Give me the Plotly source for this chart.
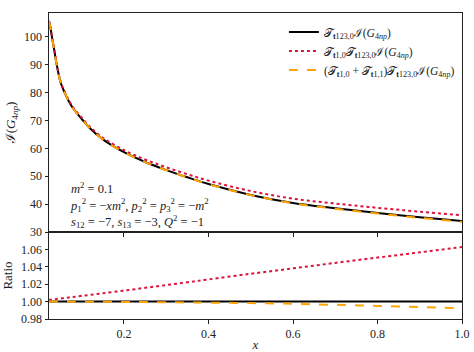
import plotly.graph_objects as go
from plotly.subplots import make_subplots

# ---- data ----
x_vals = [0.0225, 0.025, 0.03, 0.035, 0.04, 0.05, 0.06, 0.07, 0.08, 0.1, 0.12, 0.15,
          0.2, 0.25, 0.3, 0.35, 0.4, 0.5, 0.6, 0.7, 0.8, 0.9, 1.0]
exact_vals = [105.5, 104.0, 99.4, 95.2, 90.6, 83.6, 79.8, 76.7, 74.2, 70.5, 67.1, 63.2,
              58.6, 55.1, 52.2, 49.6, 47.2, 43.3, 40.4, 38.5, 36.8, 35.3, 33.9]
ratio_t10 = [1.0018, 1.0020, 1.0023, 1.0026, 1.0030, 1.0036, 1.0042, 1.0048, 1.0054, 1.0066,
             1.0078, 1.0096, 1.0126, 1.0158, 1.0190, 1.0222, 1.0255, 1.0320, 1.0382,
             1.0445, 1.0506, 1.0566, 1.0627]
ratio_t10_t11 = [1.0000, 1.0000, 1.0000, 1.0000, 1.0000, 1.0000, 1.0000, 1.0000, 0.9999, 0.9999,
                 0.9999, 0.9998, 0.9996, 0.9994, 0.9992, 0.9990, 0.9988, 0.9983, 0.9975,
                 0.9963, 0.9950, 0.9937, 0.9923]
ratio_exact = [1.0 for _ in x_vals]

top_t10 = [e * r for e, r in zip(exact_vals, ratio_t10)]
top_t10_t11 = [e * r for e, r in zip(exact_vals, ratio_t10_t11)]

x_ticks = [0.2, 0.4, 0.6, 0.8, 1.0]
x_tick_labels = ["0.2", "0.4", "0.6", "0.8", "1.0"]
y_top_ticks = [30, 40, 50, 60, 70, 80, 90, 100]
y_bot_ticks = [0.98, 1.00, 1.02, 1.04, 1.06]
y_bot_labels = ["0.98", "1.00", "1.02", "1.04", "1.06"]

names = [
    "𝒯<sub><b>t</b>123,0</sub>ℐ(<i>G</i><sub>4<i>np</i></sub>)",
    "𝒯<sub><b>t</b>1,0</sub>𝒯<sub><b>t</b>123,0</sub>ℐ(<i>G</i><sub>4<i>np</i></sub>)",
    "(𝒯<sub><b>t</b>1,0</sub> + 𝒯<sub><b>t</b>1,1</sub>)𝒯<sub><b>t</b>123,0</sub>ℐ(<i>G</i><sub>4<i>np</i></sub>)",
]

FONT = "Liberation Serif, Times New Roman, serif"
TXT = "#222222"
BLACK = "#000000"
RED = "#DC143C"
ORANGE = "#FFA500"

fig = make_subplots(rows=2, cols=1, shared_xaxes=True, vertical_spacing=0,
                    row_heights=[0.7157, 0.2843])

fig.add_trace(go.Scatter(x=x_vals, y=exact_vals, mode="lines", name=names[0],
                         line=dict(color=BLACK, width=2, shape="spline")), row=1, col=1)
fig.add_trace(go.Scatter(x=x_vals, y=top_t10, mode="lines", name=names[1],
                         line=dict(color=RED, width=2, dash="dot", shape="spline")), row=1, col=1)
fig.add_trace(go.Scatter(x=x_vals, y=top_t10_t11, mode="lines", name=names[2],
                         line=dict(color=ORANGE, width=2, dash="dash", shape="spline")), row=1, col=1)

fig.add_trace(go.Scatter(x=x_vals, y=ratio_exact, mode="lines", showlegend=False,
                         line=dict(color=BLACK, width=2)), row=2, col=1)
fig.add_trace(go.Scatter(x=x_vals, y=ratio_t10, mode="lines", showlegend=False,
                         line=dict(color=RED, width=2, dash="dot", shape="spline")), row=2, col=1)
fig.add_trace(go.Scatter(x=x_vals, y=ratio_t10_t11, mode="lines", showlegend=False,
                         line=dict(color=ORANGE, width=2, dash="dash", shape="spline")), row=2, col=1)

axis_common = dict(showline=True, linecolor=TXT, linewidth=1, mirror=True,
                   ticks="outside", ticklen=3.5, tickwidth=1, tickcolor=TXT,
                   showgrid=False, zeroline=False, automargin=False,
                   tickfont=dict(family=FONT, size=12, color=TXT))

fig.update_xaxes(range=[0.0225, 1.0], tickvals=x_ticks, ticktext=x_tick_labels, **axis_common)
fig.update_xaxes(showticklabels=False, row=1, col=1)
fig.update_xaxes(row=2, col=1,
                 title=dict(text="<i>x</i>", font=dict(family=FONT, size=13, color=TXT),
                            standoff=2))
fig.update_yaxes(range=[30, 108.5], tickvals=y_top_ticks, row=1, col=1,
                 title=dict(text="ℐ(<i>G</i><sub>4<i>np</i></sub>)",
                            font=dict(family=FONT, size=13, color=TXT), standoff=5),
                 **axis_common)
fig.update_yaxes(range=[0.98, 1.08], tickvals=y_bot_ticks, ticktext=y_bot_labels, row=2, col=1,
                 title=dict(text="Ratio", font=dict(family=FONT, size=13, color=TXT),
                            standoff=5),
                 **axis_common)

fig.add_annotation(
    xref="x domain", yref="y domain", x=0.045, y=0.0, xanchor="left", yanchor="bottom",
    align="left", showarrow=False,
    text=("<i>m</i><sup>2</sup> = 0.1<br>"
          "<i>p</i><sub>1</sub><sup>2</sup> = −<i>xm</i><sup>2</sup>, "
          "<i>p</i><sub>2</sub><sup>2</sup> = <i>p</i><sub>3</sub><sup>2</sup> = −<i>m</i><sup>2</sup><br>"
          "<i>s</i><sub>12</sub> = −7, <i>s</i><sub>13</sub> = −3, <i>Q</i><sup>2</sup> = −1"),
    font=dict(family=FONT, size=12.5, color=TXT),
)

fig.update_layout(
    width=474, height=352,
    margin=dict(l=49, r=12, t=13, b=33),
    paper_bgcolor="white", plot_bgcolor="white",
    font=dict(family=FONT, color=TXT),
    legend=dict(x=0.995, y=0.985, xanchor="right", yanchor="top",
                bgcolor="rgba(255,255,255,0)", borderwidth=0,
                font=dict(family=FONT, size=11.5, color=TXT),
                tracegroupgap=0, itemwidth=30),
)

fig.write_html("out.html")
